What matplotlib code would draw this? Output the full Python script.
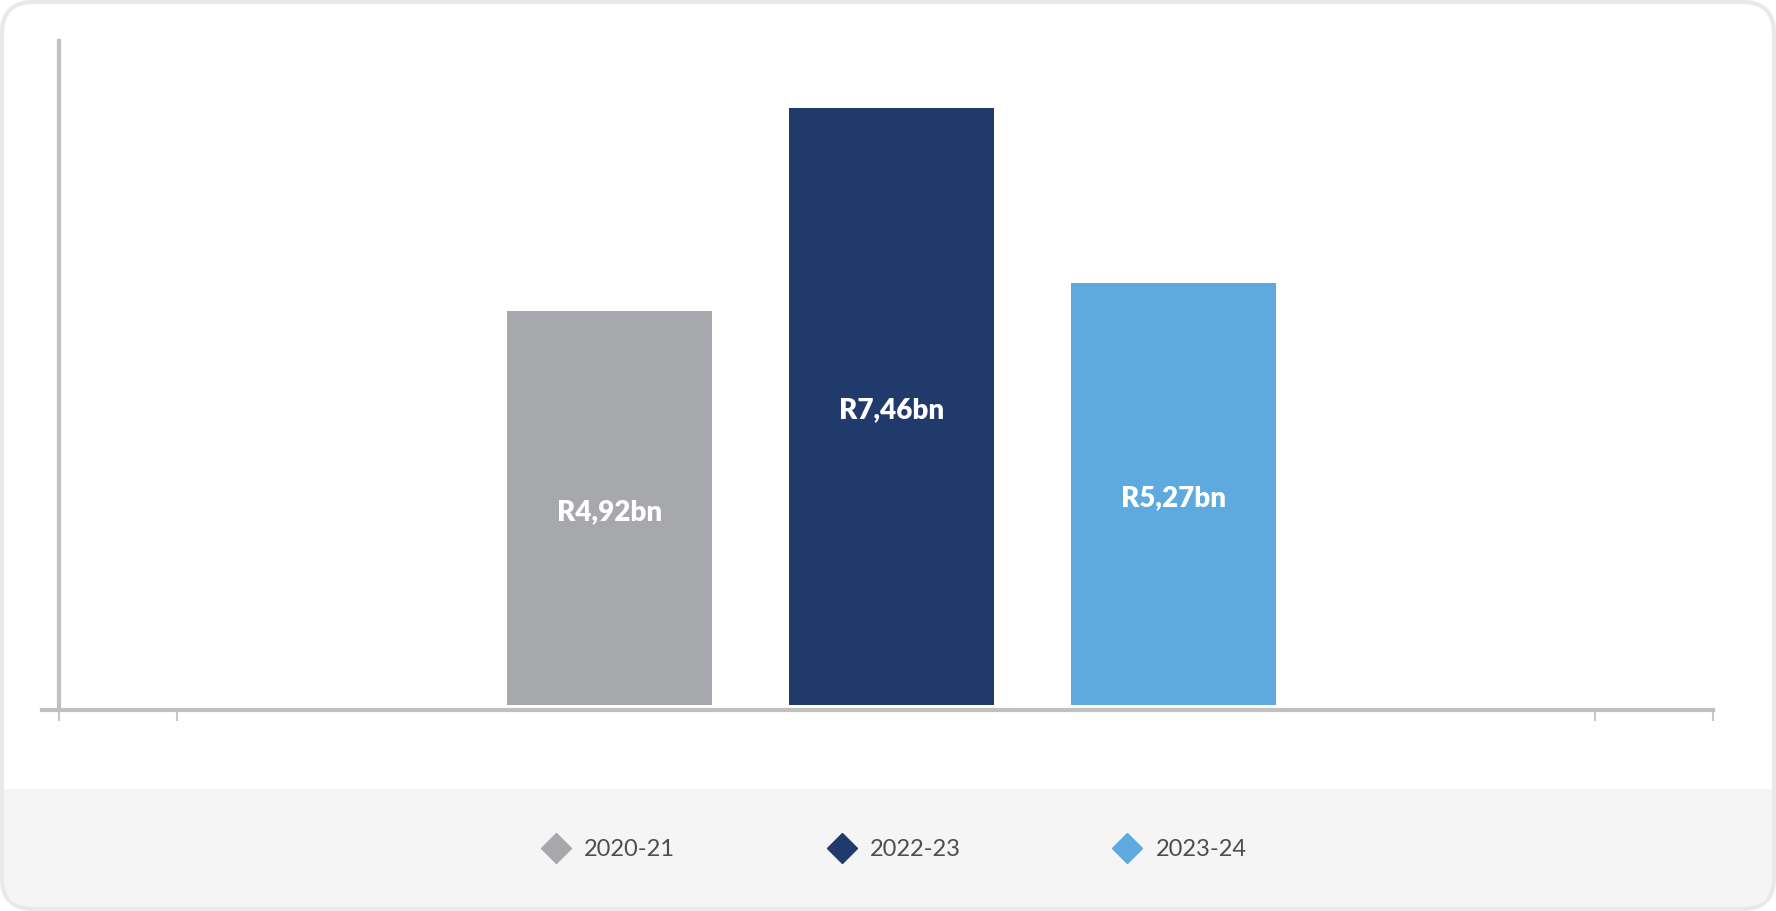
import matplotlib.pyplot as plt
from matplotlib.patches import FancyBboxPatch, Rectangle

# data
years = ['2020-21', '2022-23', '2023-24']
values = [4.92, 7.46, 5.27]
labels = ['R4,92bn', 'R7,46bn', 'R5,27bn']
colors = ['#a7a8ab', '#1f3a6b', '#5eaadf']

W, H = 1776, 911
fig = plt.figure(figsize=(W / 100, H / 100), dpi=100)
fig.patch.set_facecolor('white')

# card background with rounded border and grey legend band
bg = fig.add_axes([0, 0, 1, 1], zorder=0)
bg.set_xlim(0, W)
bg.set_ylim(H, 0)
bg.axis('off')
card = FancyBboxPatch((4, 4), W - 8, H - 8, boxstyle='round,pad=0,rounding_size=30',
                      facecolor='white', edgecolor='none')
bg.add_patch(card)
band = Rectangle((0, 789), W, H - 789, facecolor='#f5f5f5', edgecolor='none')
bg.add_patch(band)
band.set_clip_path(card)
bg.add_patch(FancyBboxPatch((2, 2), W - 4, H - 4, boxstyle='round,pad=0,rounding_size=31',
                            facecolor='none', edgecolor='#e9e9e9', linewidth=3))

# main axes: x from 42px to 1713px, y from 41px to 710px
x_left = -17 / 1654
ax = fig.add_axes([42 / W, (H - 710) / H, (1713 - 42) / W, (710 - 41) / H], zorder=1)
ax.patch.set_alpha(0)

center = 0.5035
spacing = 0.1705
width = 0.124
for i, (v, c, lab, yr) in enumerate(zip(values, colors, labels, years)):
    x = center + (i - 1) * spacing
    ax.bar(x, v, width=width, color=c, label=yr, zorder=2)
    ax.text(x, v / 2 - 0.05, lab, ha='center', va='center', color='white',
            fontsize=20, fontweight='heavy', family='Lato', zorder=3)

ax.set_xlim(x_left, 1)
ax.set_ylim(-0.0625, 8.3)
for s in ['top', 'right']:
    ax.spines[s].set_visible(False)
ax.spines['left'].set_position(('data', 0))
ax.spines['left'].set_color('#c0c0c0')
ax.spines['left'].set_linewidth(3)
ax.spines['bottom'].set_color('#c0c0c0')
ax.spines['bottom'].set_linewidth(3)
ax.set_yticks([])
ax.set_xticks([0, 0.0714, 0.9286, 1])
ax.set_xticklabels([])
ax.tick_params(axis='x', length=8, width=1.5, color='#c8c8c8', direction='out')

# legend with diamond markers
handles = [plt.Line2D([], [], marker='D', linestyle='none', markersize=15,
                      markerfacecolor=c, markeredgecolor=c) for c in colors]
leg = fig.legend(handles, years, loc='center', bbox_to_anchor=(896 / W, 1 - 850 / H), ncol=3,
                 frameon=False, handlelength=0.9, handletextpad=0.75, columnspacing=6.6,
                 prop={'family': 'Lato', 'size': 17})
for t in leg.get_texts():
    t.set_color('#4d4d4d')

fig.savefig('out.png', dpi=100)
